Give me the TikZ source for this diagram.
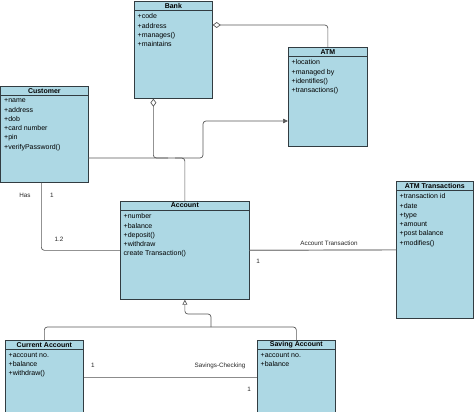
\documentclass[tikz,border=0pt]{standalone}
\usepackage{fontspec}
\setmainfont{Liberation Sans}
\usetikzlibrary{arrows.meta,calc}
\definecolor{clsblue}{RGB}{173,216,228}
\definecolor{clsedge}{RGB}{50,60,65}
\tikzset{
  cls/.style={draw=clsedge, fill=clsblue, line width=0.7pt, inner sep=0pt, anchor=north west},
  clsline/.style={draw=clsedge, line width=0.7pt},
  clstitle/.style={font=\fontsize{7}{8}\selectfont\bfseries, inner sep=0pt},
  clsattr/.style={font=\fontsize{7}{9.3}\selectfont, align=left, anchor=north west, inner sep=0pt},
  conn/.style={draw=black!65, line width=0.7pt, rounded corners=3pt},
  assoc/.style={draw=black!45, line width=1.2pt},
  lbl/.style={font=\fontsize{6.3}{7}\selectfont, inner sep=0pt, text=black!85},
}
\newcommand{\umlclass}[7]{%
  \node[cls, minimum width=#4pt, minimum height=#5pt] (#1) at (#2,#3) {};
  \draw[clsline] ([yshift=-9pt]#1.north west) -- ([yshift=-9pt]#1.north east);
  \node[clstitle] (#1-t) at ([yshift=-4.6pt]#1.north) {#6};
  \node[clsattr] (#1-a) at ([xshift=3.5pt,yshift=-12.5pt]#1.north west) {#7};
}
\begin{document}
\begin{tikzpicture}[x=1pt,y=-1pt]
\useasboundingbox (0,0) rectangle (474,412);
\begin{scope}
\clip (0,0) rectangle (474,412);
\umlclass{bank}{134}{1}{78}{97}{Bank}{+code\\+address\\+manages()\\+maintains}
\umlclass{atm}{288}{47}{79}{99}{ATM}{+location\\+managed by\\+identifies()\\+transactions()}
\umlclass{cust}{0.5}{86}{87}{96}{Customer}{+name\\+address\\+dob\\+card number\\+pin\\+verifyPassword()}
\umlclass{acct}{120}{201}{129}{98}{Account}{+number\\+balance\\+deposit()\\+withdraw\\create Transaction()}
\umlclass{atmtr}{396}{181}{77}{137}{ATM Transactions}{+transaction id\\+date\\+type\\+amount\\+post balance\\+modifies()}
\umlclass{curr}{5}{340}{78}{74}{Current Account}{+account no.\\+balance\\+withdraw()}
\umlclass{sav}{257}{340}{78}{74}{Saving Account}{+account no.\\+balance}
\end{scope}

% Bank -- ATM aggregation
\coordinate (bankR) at ([yshift=-24pt]bank.north east);
\draw[conn, {Diamond[open,length=8pt,width=6pt]}-] (bankR) -| (atm.north);

% Customer -- ATM
\coordinate (custR) at ([yshift=-72pt]cust.north east);
\coordinate (bend) at (203,158);
\coordinate (atmIn) at ([yshift=-74pt]atm.north west);
\draw[conn, -{Triangle[length=5pt,width=4.5pt]}] (custR) -- (bend) |- (atmIn);

% Bank -- junction
\coordinate (bankB) at ([xshift=-20pt]bank.south);
\coordinate (jB) at (168,158);
\draw[conn, {Diamond[open,length=8pt,width=6pt]}-] (bankB) |- (jB);

% Account -- junction
\coordinate (jA) at (175,158);
\draw[conn] (acct.north) |- (jA);

% Customer -- Account
\coordinate (custB) at ([xshift=-3pt]cust.south);
\draw[conn] (custB) |- (acct.west);
\node[lbl] (has) at (25,195) {Has};
\node[lbl] (m1) at (52,195) {1};
\node[lbl] (m12) at (59,239) {1.2};

% Account -- ATM Transactions
\draw[assoc] (acct.east) -- (atmtr.west);
\node[lbl] (at) at (329,243) {Account Transaction};
\node[lbl] (m2) at (258,261) {1};

% Generalization
\coordinate (gen) at (211,327);
\coordinate (gen2) at (211,314);
\draw[conn] (curr.north) |- (gen) -| (sav.north);
\draw[conn, -{Triangle[open,length=5pt,width=5pt]}] (gen) -- (gen2) -| (acct.south);

% Savings-Checking
\draw[assoc] (curr.east) -- (sav.west);
\node[lbl] (m3) at (93,365) {1};
\node[lbl] (sc) at (220,366) {Savings-Checking};
\node[lbl] (m4) at (249,389) {1};
\end{tikzpicture}
\end{document}
